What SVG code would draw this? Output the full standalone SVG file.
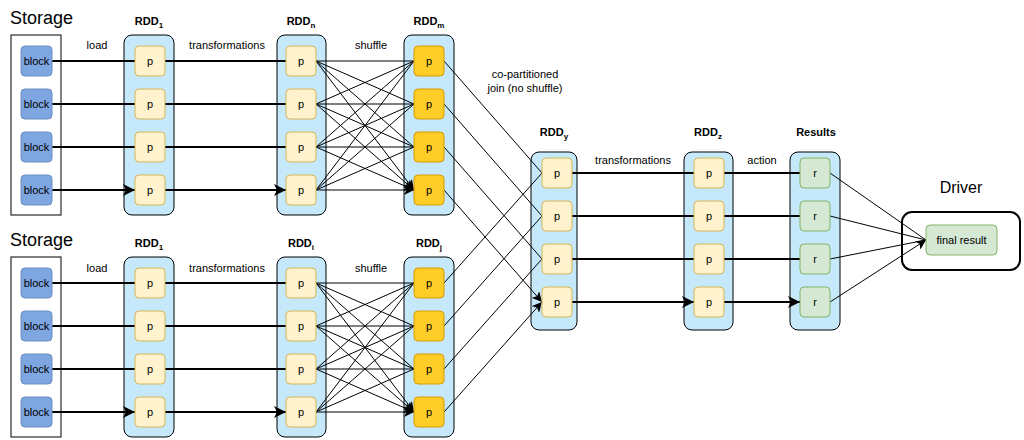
<svg xmlns="http://www.w3.org/2000/svg" width="1024" height="440" viewBox="0 0 1024 440">
<defs>
<marker id="a" markerUnits="userSpaceOnUse" markerWidth="14" markerHeight="12" refX="12" refY="6" orient="auto"><path d="M0,0 L12,6 L0,12 L3,6 Z" fill="#000"/></marker>
<marker id="b" markerUnits="userSpaceOnUse" markerWidth="12" markerHeight="10" refX="10" refY="5" orient="auto"><path d="M0,0 L10,5 L0,10 L2.5,5 Z" fill="#000"/></marker>
</defs>
<style>
text{font-family:"Liberation Sans",Arial,sans-serif;fill:#000}
.st{fill:#fff;stroke:#000;stroke-width:1}
.c{fill:#c5e9fb;stroke:#000;stroke-width:1}
.bl{fill:#7ea6e0;stroke:#6c8ebf}
.p{fill:#fff2cc;stroke:#d6b656}
.o{fill:#ffcd28;stroke:#d79b00}
.r{fill:#d5e8d4;stroke:#82b366}
.t{font-size:11px;text-anchor:middle}
.lb{font-size:11px;font-weight:bold;text-anchor:middle}
.sub{font-size:8px}
.th{stroke:#000;stroke-width:2;fill:none;marker-end:url(#a)}
.tn{stroke:#000;stroke-width:1;fill:none;marker-end:url(#b)}
</style>
<g id="labels">
<text x="10" y="24" font-size="18">Storage</text>
<text x="10" y="246" font-size="18">Storage</text>
<text x="149" y="25" class="lb">RDD<tspan class="sub" dy="3">1</tspan></text>
<text x="301" y="25" class="lb">RDD<tspan class="sub" dy="3">n</tspan></text>
<text x="429" y="25" class="lb">RDD<tspan class="sub" dy="3">m</tspan></text>
<text x="149" y="247" class="lb">RDD<tspan class="sub" dy="3">1</tspan></text>
<text x="301" y="247" class="lb">RDD<tspan class="sub" dy="3">i</tspan></text>
<text x="429" y="247" class="lb">RDD<tspan class="sub" dy="3">j</tspan></text>
<text x="554" y="136" class="lb">RDD<tspan class="sub" dy="3">y</tspan></text>
<text x="708" y="136" class="lb">RDD<tspan class="sub" dy="3">z</tspan></text>
<text x="816" y="136" class="lb">Results</text>
<text x="961" y="193" font-size="16" text-anchor="middle">Driver</text>
<text x="97" y="49" class="t">load</text>
<text x="227" y="49" class="t">transformations</text>
<text x="371" y="49" class="t">shuffle</text>
<text x="97" y="272" class="t">load</text>
<text x="227" y="272" class="t">transformations</text>
<text x="371" y="272" class="t">shuffle</text>
<text x="525" y="78" class="t">co-partitioned</text>
<text x="525" y="92" class="t">join (no shuffle)</text>
<text x="633" y="164" class="t">transformations</text>
<text x="762" y="164" class="t">action</text>
</g>
<g id="containers">
<rect class="st" x="11" y="35" width="50" height="180"/>
<rect class="c" x="124" y="35" width="50" height="180" rx="8"/>
<rect class="c" x="277" y="35" width="49" height="180" rx="8"/>
<rect class="c" x="404" y="35" width="50" height="180" rx="8"/>
<rect class="st" x="11" y="257" width="50" height="180"/>
<rect class="c" x="124" y="257" width="50" height="180" rx="8"/>
<rect class="c" x="277" y="257" width="49" height="180" rx="8"/>
<rect class="c" x="404" y="257" width="50" height="180" rx="8"/>
<rect class="c" x="531" y="152" width="46" height="178" rx="8"/>
<rect class="c" x="684" y="152" width="49" height="178" rx="8"/>
<rect class="c" x="790" y="152" width="50" height="178" rx="8"/>
<rect x="902" y="212" width="118" height="58" rx="10" fill="#fff" stroke="#000" stroke-width="2"/>
</g>
<g id="connectors">
<!-- top straight -->
<path class="th" d="M52,61H135M52,104H135M52,147H135M52,190H135"/>
<path class="th" d="M165,61H286M165,104H286M165,147H286M165,190H286"/>
<path class="th" d="M52,283H135M52,326H135M52,369H135M52,412H135"/>
<path class="th" d="M165,283H286M165,326H286M165,369H286M165,412H286"/>
<!-- shuffle top -->
<path class="tn" d="M316,61L414,61M316,61L414,104M316,61L414,147M316,61L414,190"/>
<path class="tn" d="M316,104L414,61M316,104L414,104M316,104L414,147M316,104L414,190"/>
<path class="tn" d="M316,147L414,61M316,147L414,104M316,147L414,147M316,147L414,190"/>
<path class="tn" d="M316,190L414,61M316,190L414,104M316,190L414,147M316,190L414,190"/>
<!-- shuffle bottom -->
<path class="tn" d="M316,283L414,283M316,283L414,326M316,283L414,369M316,283L414,412"/>
<path class="tn" d="M316,326L414,283M316,326L414,326M316,326L414,369M316,326L414,412"/>
<path class="tn" d="M316,369L414,283M316,369L414,326M316,369L414,369M316,369L414,412"/>
<path class="tn" d="M316,412L414,283M316,412L414,326M316,412L414,369M316,412L414,412"/>
<!-- join -->
<path class="tn" d="M444,61L542,173M444,104L542,216M444,147L542,259M444,190L542,302"/>
<path class="tn" d="M444,283L542,173M444,326L542,216M444,369L542,259M444,412L542,302"/>
<path class="th" d="M572,173H694M572,216H694M572,259H694M572,302H694"/>
<path class="th" d="M724,173H800M724,216H800M724,259H800M724,302H800"/>
<path class="tn" d="M830,173L926,240M830,216L926,240M830,259L926,240M830,302L926,240"/>
</g>
<g id="nodes">
<g id="blocks1">
<rect class="bl" x="21" y="46" width="31" height="30" rx="4"/><rect class="bl" x="21" y="89" width="31" height="30" rx="4"/><rect class="bl" x="21" y="132" width="31" height="30" rx="4"/><rect class="bl" x="21" y="175" width="31" height="30" rx="4"/>
<text x="36.5" y="65" class="t">block</text><text x="36.5" y="108" class="t">block</text><text x="36.5" y="151" class="t">block</text><text x="36.5" y="194" class="t">block</text>
</g>
<g id="blocks2">
<rect class="bl" x="21" y="268" width="31" height="30" rx="4"/><rect class="bl" x="21" y="311" width="31" height="30" rx="4"/><rect class="bl" x="21" y="354" width="31" height="30" rx="4"/><rect class="bl" x="21" y="397" width="31" height="30" rx="4"/>
<text x="36.5" y="287" class="t">block</text><text x="36.5" y="330" class="t">block</text><text x="36.5" y="373" class="t">block</text><text x="36.5" y="416" class="t">block</text>
</g>
<g id="rdd1top">
<rect class="p" x="135" y="46" width="30" height="30" rx="4"/><rect class="p" x="135" y="89" width="30" height="30" rx="4"/><rect class="p" x="135" y="132" width="30" height="30" rx="4"/><rect class="p" x="135" y="175" width="30" height="30" rx="4"/>
<text x="150" y="65" class="t">p</text><text x="150" y="108" class="t">p</text><text x="150" y="151" class="t">p</text><text x="150" y="194" class="t">p</text>
</g>
<g id="rddn">
<rect class="p" x="286" y="46" width="30" height="30" rx="4"/><rect class="p" x="286" y="89" width="30" height="30" rx="4"/><rect class="p" x="286" y="132" width="30" height="30" rx="4"/><rect class="p" x="286" y="175" width="30" height="30" rx="4"/>
<text x="301" y="65" class="t">p</text><text x="301" y="108" class="t">p</text><text x="301" y="151" class="t">p</text><text x="301" y="194" class="t">p</text>
</g>
<g id="rddm">
<rect class="o" x="414" y="46" width="30" height="30" rx="4"/><rect class="o" x="414" y="89" width="30" height="30" rx="4"/><rect class="o" x="414" y="132" width="30" height="30" rx="4"/><rect class="o" x="414" y="175" width="30" height="30" rx="4"/>
<text x="429" y="65" class="t">p</text><text x="429" y="108" class="t">p</text><text x="429" y="151" class="t">p</text><text x="429" y="194" class="t">p</text>
</g>
<g id="rdd1bot">
<rect class="p" x="135" y="268" width="30" height="30" rx="4"/><rect class="p" x="135" y="311" width="30" height="30" rx="4"/><rect class="p" x="135" y="354" width="30" height="30" rx="4"/><rect class="p" x="135" y="397" width="30" height="30" rx="4"/>
<text x="150" y="287" class="t">p</text><text x="150" y="330" class="t">p</text><text x="150" y="373" class="t">p</text><text x="150" y="416" class="t">p</text>
</g>
<g id="rddi">
<rect class="p" x="286" y="268" width="30" height="30" rx="4"/><rect class="p" x="286" y="311" width="30" height="30" rx="4"/><rect class="p" x="286" y="354" width="30" height="30" rx="4"/><rect class="p" x="286" y="397" width="30" height="30" rx="4"/>
<text x="301" y="287" class="t">p</text><text x="301" y="330" class="t">p</text><text x="301" y="373" class="t">p</text><text x="301" y="416" class="t">p</text>
</g>
<g id="rddj">
<rect class="o" x="414" y="268" width="30" height="30" rx="4"/><rect class="o" x="414" y="311" width="30" height="30" rx="4"/><rect class="o" x="414" y="354" width="30" height="30" rx="4"/><rect class="o" x="414" y="397" width="30" height="30" rx="4"/>
<text x="429" y="287" class="t">p</text><text x="429" y="330" class="t">p</text><text x="429" y="373" class="t">p</text><text x="429" y="416" class="t">p</text>
</g>
<g id="rddy">
<rect class="p" x="542" y="158" width="30" height="30" rx="4"/><rect class="p" x="542" y="201" width="30" height="30" rx="4"/><rect class="p" x="542" y="244" width="30" height="30" rx="4"/><rect class="p" x="542" y="287" width="30" height="30" rx="4"/>
<text x="557" y="177" class="t">p</text><text x="557" y="220" class="t">p</text><text x="557" y="263" class="t">p</text><text x="557" y="306" class="t">p</text>
</g>
<g id="rddz">
<rect class="p" x="694" y="158" width="30" height="30" rx="4"/><rect class="p" x="694" y="201" width="30" height="30" rx="4"/><rect class="p" x="694" y="244" width="30" height="30" rx="4"/><rect class="p" x="694" y="287" width="30" height="30" rx="4"/>
<text x="709" y="177" class="t">p</text><text x="709" y="220" class="t">p</text><text x="709" y="263" class="t">p</text><text x="709" y="306" class="t">p</text>
</g>
<g id="results">
<rect class="r" x="800" y="158" width="30" height="30" rx="4"/><rect class="r" x="800" y="201" width="30" height="30" rx="4"/><rect class="r" x="800" y="244" width="30" height="30" rx="4"/><rect class="r" x="800" y="287" width="30" height="30" rx="4"/>
<text x="815" y="177" class="t">r</text><text x="815" y="220" class="t">r</text><text x="815" y="263" class="t">r</text><text x="815" y="306" class="t">r</text>
</g>
<g id="final">
<rect class="r" x="926" y="225" width="71" height="30" rx="4"/>
<text x="961.5" y="244" class="t" font-size="10">final result</text>
</g>
</g>
</svg>
